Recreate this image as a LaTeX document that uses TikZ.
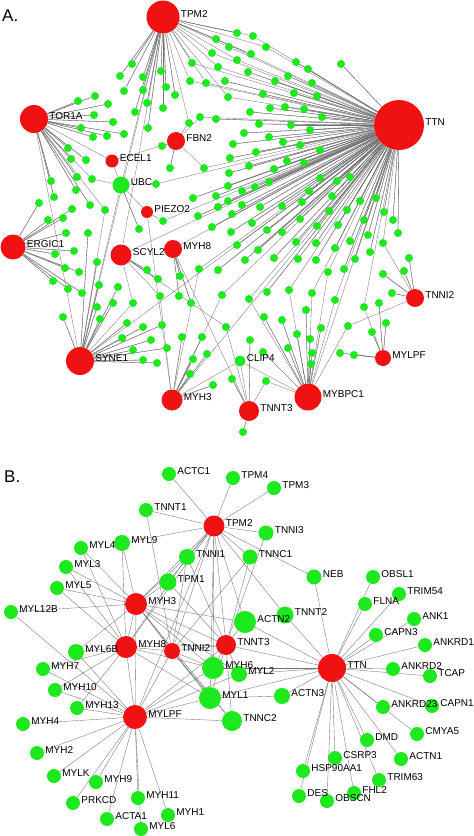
\documentclass[tikz,border=0pt]{standalone}
\usepackage{fontspec}
\setmainfont{Liberation Sans}
\definecolor{ngreen}{RGB}{30,232,30}
\definecolor{nred}{RGB}{240,18,18}
\pgfdeclarelayer{edges}
\pgfdeclarelayer{fg}
\pgfsetlayers{edges,main,fg}
\tikzset{
  eda/.style={draw=black!55, line width=0.32pt},
  edb/.style={draw=black!55, line width=0.35pt},
  gn/.style={circle, fill=ngreen, inner sep=0pt, minimum size=8pt},
  nd/.style={circle, inner sep=0pt},
  lb/.style={anchor=west, inner sep=0pt, font=\fontsize{10}{10}\selectfont},
  ttl/.style={anchor=west, inner sep=0pt, font=\fontsize{17}{17}\selectfont},
}
\begin{document}
\begin{tikzpicture}[x=1pt,y=-1pt]
\begin{pgfonlayer}{edges}
\fill[white] (0,0) rectangle (474,836);
\end{pgfonlayer}
\useasboundingbox (0,0) rectangle (474,836);

% ---------------- Panel A ----------------
\node[ttl] (titleA) at (2,16) {A.};
\foreach \n/\x/\y/\s/\c/\t in {
  tpm/163/17/33pt/nred/TPM2, ttn/399/125/50pt/nred/TTN, tor/34/119/28pt/nred/TOR1A,
  fbn/176/141/18pt/nred/FBN2, ece/112/161/13pt/nred/ECEL1, ubc/121/185/17pt/ngreen/UBC,
  pie/147/212/12pt/nred/PIEZO2, erg/13/247/25pt/nred/ERGIC1, scy/121/255/21pt/nred/SCYL2,
  my8/173/249/18pt/nred/MYH8, syn/80/361/28pt/nred/SYNE1, my3/172/400/21pt/nred/MYH3,
  ti2/415/298/18pt/nred/TNNI2, mlp/383/358/16pt/nred/MYLPF, mbp/308/397/27pt/nred/MYBPC1,
  tt3/249/411/20pt/nred/TNNT3, cli/240/361/11pt/ngreen/CLIP4}{
  \node[nd, fill=\c, minimum size=\s] (\n) at (\x,\y) {};
  \begin{pgfonlayer}{fg}
  \node[lb, xshift=1pt, yshift=3pt] (l\n) at (\n.east) {\t};
  \end{pgfonlayer}
}
\begin{pgfonlayer}{edges}
\foreach \p/\q in {tor/ece, ece/ubc, ubc/pie, ubc/tpm, ubc/syn, ece/fbn, tpm/syn, tor/syn,
  scy/tpm, pie/my3, my8/tt3, my8/ttn, scy/ttn, cli/tt3, cli/mbp, cli/my3, syn/ttn, my3/ttn, mbp/ttn}{
  \draw[eda] (\p) -- (\q);
}
\end{pgfonlayer}
\foreach [count=\i] \x/\y/\p/\q in {
 132/64/tpm/tpm, 120/76/tpm/tpm, 124/91/tpm/tpm, 143/77/tpm/tpm, 161/71/tpm/tpm, 143/90/tpm/tpm,
 166/87/tpm/tpm, 175/95/tpm/tpm, 163/108/tpm/tpm, 135/112/tpm/tpm, 147/103/tpm/tpm, 148/128/tpm/tpm,
 192/63/tpm/ttn, 190/81/tpm/ttn, 206/83/tpm/ttn, 216/39/tpm/ttn, 229/47/tpm/ttn, 212/53/tpm/ttn,
 218/67/tpm/ttn, 225/81/ttn/ttn, 228/97/tpm/ttn, 189/123/fbn/tpm, 200/117/fbn/ttn,
 237/33/tpm/tpm, 253/36/tpm/ttn, 266/47/tpm/ttn, 251/54/tpm/tpm, 237/60/ttn/tpm, 248/72/ttn/ttn,
 296/62/ttn/ttn, 308/69/ttn/ttn, 341/64/ttn/ttn, 288/76/ttn/ttn, 275/81/ttn/ttn, 312/83/ttn/ttn,
 294/93/ttn/ttn, 317/96/ttn/ttn, 263/94/ttn/ttn,
 216/119/ttn/ttn, 233/144/ttn/ttn, 230/158/ttn/ttn, 228/186/ttn/ttn, 218/207/ttn/ttn, 228/201/ttn/ttn,
 250/112/ttn/ttn, 270/108/ttn/ttn, 285/107/ttn/ttn, 304/109/ttn/ttn, 322/117/ttn/ttn, 259/124/ttn/ttn,
 291/125/ttn/ttn, 310/130/ttn/ttn, 244/133/ttn/ttn, 269/137/ttn/ttn, 283/142/ttn/ttn, 300/145/ttn/ttn,
 320/150/ttn/ttn, 256/152/ttn/ttn, 287/161/ttn/ttn, 304/163/ttn/ttn, 249/166/ttn/ttn, 274/169/ttn/ttn,
 229/173/ttn/ttn, 320/178/ttn/ttn, 337/181/ttn/ttn, 350/177/ttn/ttn, 269/182/ttn/ttn, 255/187/ttn/ttn,
 242/191/ttn/ttn, 309/191/ttn/ttn, 332/196/ttn/ttn, 360/201/ttn/ttn, 376/198/ttn/ttn, 260/207/ttn/ttn,
 282/206/ttn/ttn, 302/202/ttn/ttn, 329/211/ttn/ttn, 347/210/ttn/ttn, 384/212/ttn/ttn, 364/220/ttn/ttn,
 393/220/ttn/ttn, 242/205/ttn/ttn, 232/214/ttn/ttn, 198/216/ttn/ttn, 212/227/ttn/ttn, 231/232/ttn/ttn,
 252/223/ttn/ttn, 267/230/ttn/ttn, 282/232/ttn/ttn, 300/219/ttn/ttn, 317/226/ttn/ttn, 338/225/ttn/ttn,
 368/235/ttn/ttn, 398/233/ttn/ttn, 350/241/ttn/ttn, 335/248/ttn/ttn, 316/243/ttn/ttn, 296/242/ttn/ttn,
 274/258/ttn/ttn, 258/250/ttn/ttn, 245/260/ttn/ttn, 237/245/ttn/ttn, 298/259/ttn/ttn, 316/260/ttn/ttn,
 328/272/ttn/mbp, 344/269/ttn/ttn, 355/259/ttn/ttn, 370/252/ttn/ttn, 383/243/ttn/ti2, 193/198/ttn/ttn,
 216/196/ttn/ttn, 163/221/ttn/pie, 204/168/fbn/ttn, 162/146/fbn/fbn, 170/168/fbn/fbn, 156/184/ubc/ttn,
 409/258/ti2/ti2, 404/271/ti2/ti2, 383/274/ti2/ti2, 392/293/ti2/ti2, 379/303/mlp/mlp, 364/307/mlp/ttn,
 386/323/mlp/mlp, 372/332/mlp/mlp, 348/326/ti2/mbp, 335/300/ttn/mbp, 321/328/mbp/mbp, 312/293/ttn/mbp,
 306/310/mbp/mbp, 289/290/ttn/mbp, 267/292/ttn/ttn, 249/299/ttn/mbp, 264/317/mbp/mbp, 282/320/mbp/mbp,
 297/334/mbp/mbp, 310/339/mbp/mbp, 288/348/mbp/mbp, 312/353/mbp/mbp, 311/364/mbp/mbp, 340/353/mlp/mlp,
 354/355/mlp/mlp, 266/381/mbp/tt3, 250/340/tt3/tt3, 243/432/tt3/tt3, 232/379/tt3/tt3, 263/352/mbp/mbp,
 226/327/tt3/scy, 222/295/ttn/my3, 218/270/ttn/ttn, 199/269/ttn/my3,
 180/276/my8/my8, 179/296/my8/my8, 191/303/my8/my8, 160/296/scy/my3, 158/279/scy/scy, 147/270/scy/scy,
 133/303/scy/syn, 139/229/ubc/ubc, 213/385/my3/my3, 190/374/my3/my3, 207/354/my3/my3, 193/359/my3/my3,
 202/337/my3/my3, 182/337/my3/my3,
 78/101/tor/tor, 95/96/tor/tor, 108/104/tor/tor, 94/115/tor/tor, 81/128/tor/tor, 93/137/tor/tor,
 107/136/tor/tor, 113/122/tor/tor, 124/134/tor/tor, 68/148/tor/tor, 71/159/tor/tor, 86/160/tor/tor,
 77/177/tor/tor, 92/179/tor/ubc, 76/190/tor/tor, 51/181/tor/tor, 54/197/tor/tor, 90/205/tor/tor,
 105/210/tor/syn, 39/203/erg/erg, 72/209/erg/erg, 48/220/erg/erg, 63/218/erg/erg, 66/233/erg/erg,
 88/233/syn/syn, 74/251/erg/erg, 55/254/erg/erg, 65/268/erg/erg, 79/272/erg/erg, 97/262/syn/syn,
 53/281/erg/erg, 68/289/erg/erg, 82/293/erg/erg, 99/285/syn/syn, 118/287/syn/syn, 113/303/syn/syn,
 97/307/syn/syn, 100/319/syn/syn, 63/317/syn/syn, 127/323/syn/syn, 143/327/syn/syn, 162/325/syn/syn,
 122/338/syn/syn, 151/340/syn/syn, 133/350/syn/syn, 167/348/syn/syn, 143/360/syn/syn, 157/363/syn/syn}{
  \node[gn] (a\i) at (\x,\y) {};
  \begin{pgfonlayer}{edges}
  \draw[eda] (\p) -- (a\i);
  \draw[eda] (\q) -- (a\i);
  \end{pgfonlayer}
}

% ---------------- Panel B ----------------
\node[ttl] (titleB) at (4,477) {B.};
\foreach \n/\x/\y/\s/\c/\t in {
  actc1/169/474/14pt/ngreen/ACTC1, tnnt1/146/510/14pt/ngreen/TNNT1, tpm2/214/526/21pt/nred/TPM2,
  myl9/122/543/16pt/ngreen/MYL9, myl4/81/548/14pt/ngreen/MYL4, tnni1/187/557/16pt/ngreen/TNNI1,
  myl3/66/567/14pt/ngreen/MYL3, tpm1/168/582/17pt/ngreen/TPM1, myl5/57/588/14pt/ngreen/MYL5,
  myh3/136/604/22pt/nred/MYH3, myl12b/11/612/14pt/ngreen/MYL12B, tpm4/233/478/14pt/ngreen/TPM4,
  tpm3/274/488/14pt/ngreen/TPM3, tnni3/266/533/15pt/ngreen/TNNI3, tnnc1/250/557/15pt/ngreen/TNNC1,
  neb/314/577/15pt/ngreen/NEB, obsl1/373/577/14pt/ngreen/OBSL1, trim54/399/594/14pt/ngreen/TRIM54,
  flna/365/604/14pt/ngreen/FLNA, tnnt2/285/615/17pt/ngreen/TNNT2, actn2/245/622/22pt/ngreen/ACTN2,
  ank1/414/619/14pt/ngreen/ANK1, capn3/376/635/14pt/ngreen/CAPN3, myh8/126/647/22pt/nred/MYH8,
  myl6b/76/652/16pt/ngreen/MYL6B, tnni2/172/651/16pt/nred/TNNI2, tnnt3/226/645/20pt/nred/TNNT3,
  myh6/213/668/22pt/ngreen/MYH6, myl2/239/674/16pt/ngreen/MYL2, ttn/332/668/28pt/nred/TTN,
  ankrd1/425/645/14pt/ngreen/ANKRD1, ankrd2/393/669/14pt/ngreen/ANKRD2, tcap/430/676/14pt/ngreen/TCAP,
  myh7/43/669/14pt/ngreen/MYH7, myh10/55/690/14pt/ngreen/MYH10, myl1/210/698/22pt/ngreen/MYL1,
  actn3/282/696/16pt/ngreen/ACTN3, ankrd23/383/707/14pt/ngreen/ANKRD23, capn1/432/706/14pt/ngreen/CAPN1,
  myh13/77/708/14pt/ngreen/MYH13, mylpf/135/717/24pt/nred/MYLPF, tnnc2/232/721/20pt/ngreen/TNNC2,
  myh4/23/724/14pt/ngreen/MYH4, cmya5/417/734/14pt/ngreen/CMYA5, dmd/367/740/14pt/ngreen/DMD,
  myh2/37/753/14pt/ngreen/MYH2, csrp3/335/758/14pt/ngreen/CSRP3, actn1/401/759/14pt/ngreen/ACTN1,
  hsp/303/771/14pt/ngreen/HSP90AA1, mylk/54/776/14pt/ngreen/MYLK, trim63/379/780/14pt/ngreen/TRIM63,
  myh9/96/782/14pt/ngreen/MYH9, fhl2/354/793/14pt/ngreen/FHL2, des/299/796/14pt/ngreen/DES,
  myh11/138/798/14pt/ngreen/MYH11, obscn/327/801/14pt/ngreen/OBSCN, prkcd/73/803/14pt/ngreen/PRKCD,
  myh1/168/815/14pt/ngreen/MYH1, acta1/107/819/14pt/ngreen/ACTA1, myl6/141/829/14pt/ngreen/MYL6}{
  \node[nd, fill=\c, minimum size=\s] (b\n) at (\x,\y) {};
  \begin{pgfonlayer}{fg}
  \node[lb, xshift=1pt, yshift=3pt] (lb\n) at (b\n.east) {\t};
  \end{pgfonlayer}
}
\begin{pgfonlayer}{edges}
\foreach \p/\q in {
  tpm2/actc1, tpm2/tpm4, tpm2/tpm3, tpm2/tnnt1, tpm2/myl9, tpm2/tnni3, tpm2/tnni1, tpm2/tpm1,
  tpm2/myh3, tpm2/tnnc1, tpm2/actn2, tpm2/tnnt2, tpm2/myh8, tpm2/tnnt3, tpm2/tnni2, tpm2/myh6,
  tpm2/mylpf, tpm2/myl1, tpm2/neb,
  myh3/myl9, myh3/myl4, myh3/myl3, myh3/myl5, myh3/tpm1, myh3/tnni1, myh3/myh8, myh3/tnni2,
  myh3/tnnt3, myh3/actn2, myh3/myh6, myh3/myl1, myh3/mylpf, myh3/myl2, myh3/tnnc2, myh3/myl6b, myh3/myl12b,
  myh8/myl6b, myh8/myh7, myh8/myh10, myh8/myh13, myh8/mylpf, myh8/tnni2, myh8/tnnt3, myh8/myh6,
  myh8/myl1, myh8/myl4, myh8/myl3, myh8/myl5, myh8/tnni1, myh8/myl9,
  mylpf/myh4, mylpf/myh2, mylpf/mylk, mylpf/myh9, mylpf/prkcd, mylpf/myh11, mylpf/acta1, mylpf/myh1,
  mylpf/myl6, mylpf/myh13, mylpf/myh10, mylpf/myh7, mylpf/myl6b, mylpf/tnni2, mylpf/tnnt3, mylpf/myh6,
  mylpf/myl1, mylpf/tnnc2, mylpf/myl12b, mylpf/myl2,
  tnni2/tnnt3, tnni2/myl1, tnni2/tnnc2, tnni2/tnnt1, tnni2/tnnc1, tnni2/myh6, tnni2/tnni1,
  tnnt3/tnni1, tnnt3/tnnc1, tnnt3/actn2, tnnt3/myh6, tnnt3/myl2, tnnt3/myl1, tnnt3/tnnc2, tnnt3/tpm1, tnnt3/tnni3,
  ttn/capn3, ttn/flna, ttn/obsl1, ttn/trim54, ttn/ank1, ttn/ankrd1, ttn/ankrd2, ttn/tcap, ttn/ankrd23,
  ttn/capn1, ttn/cmya5, ttn/dmd, ttn/actn1, ttn/csrp3, ttn/hsp, ttn/trim63, ttn/des, ttn/fhl2, ttn/obscn,
  ttn/actn3, ttn/neb, ttn/tnnt3, ttn/myl2, ttn/myh6, ttn/actn2, ttn/myl1, ttn/tnnt2, actn3/myl1}{
  \draw[edb] (b\p) -- (b\q);
}
\end{pgfonlayer}
\end{tikzpicture}
\end{document}
